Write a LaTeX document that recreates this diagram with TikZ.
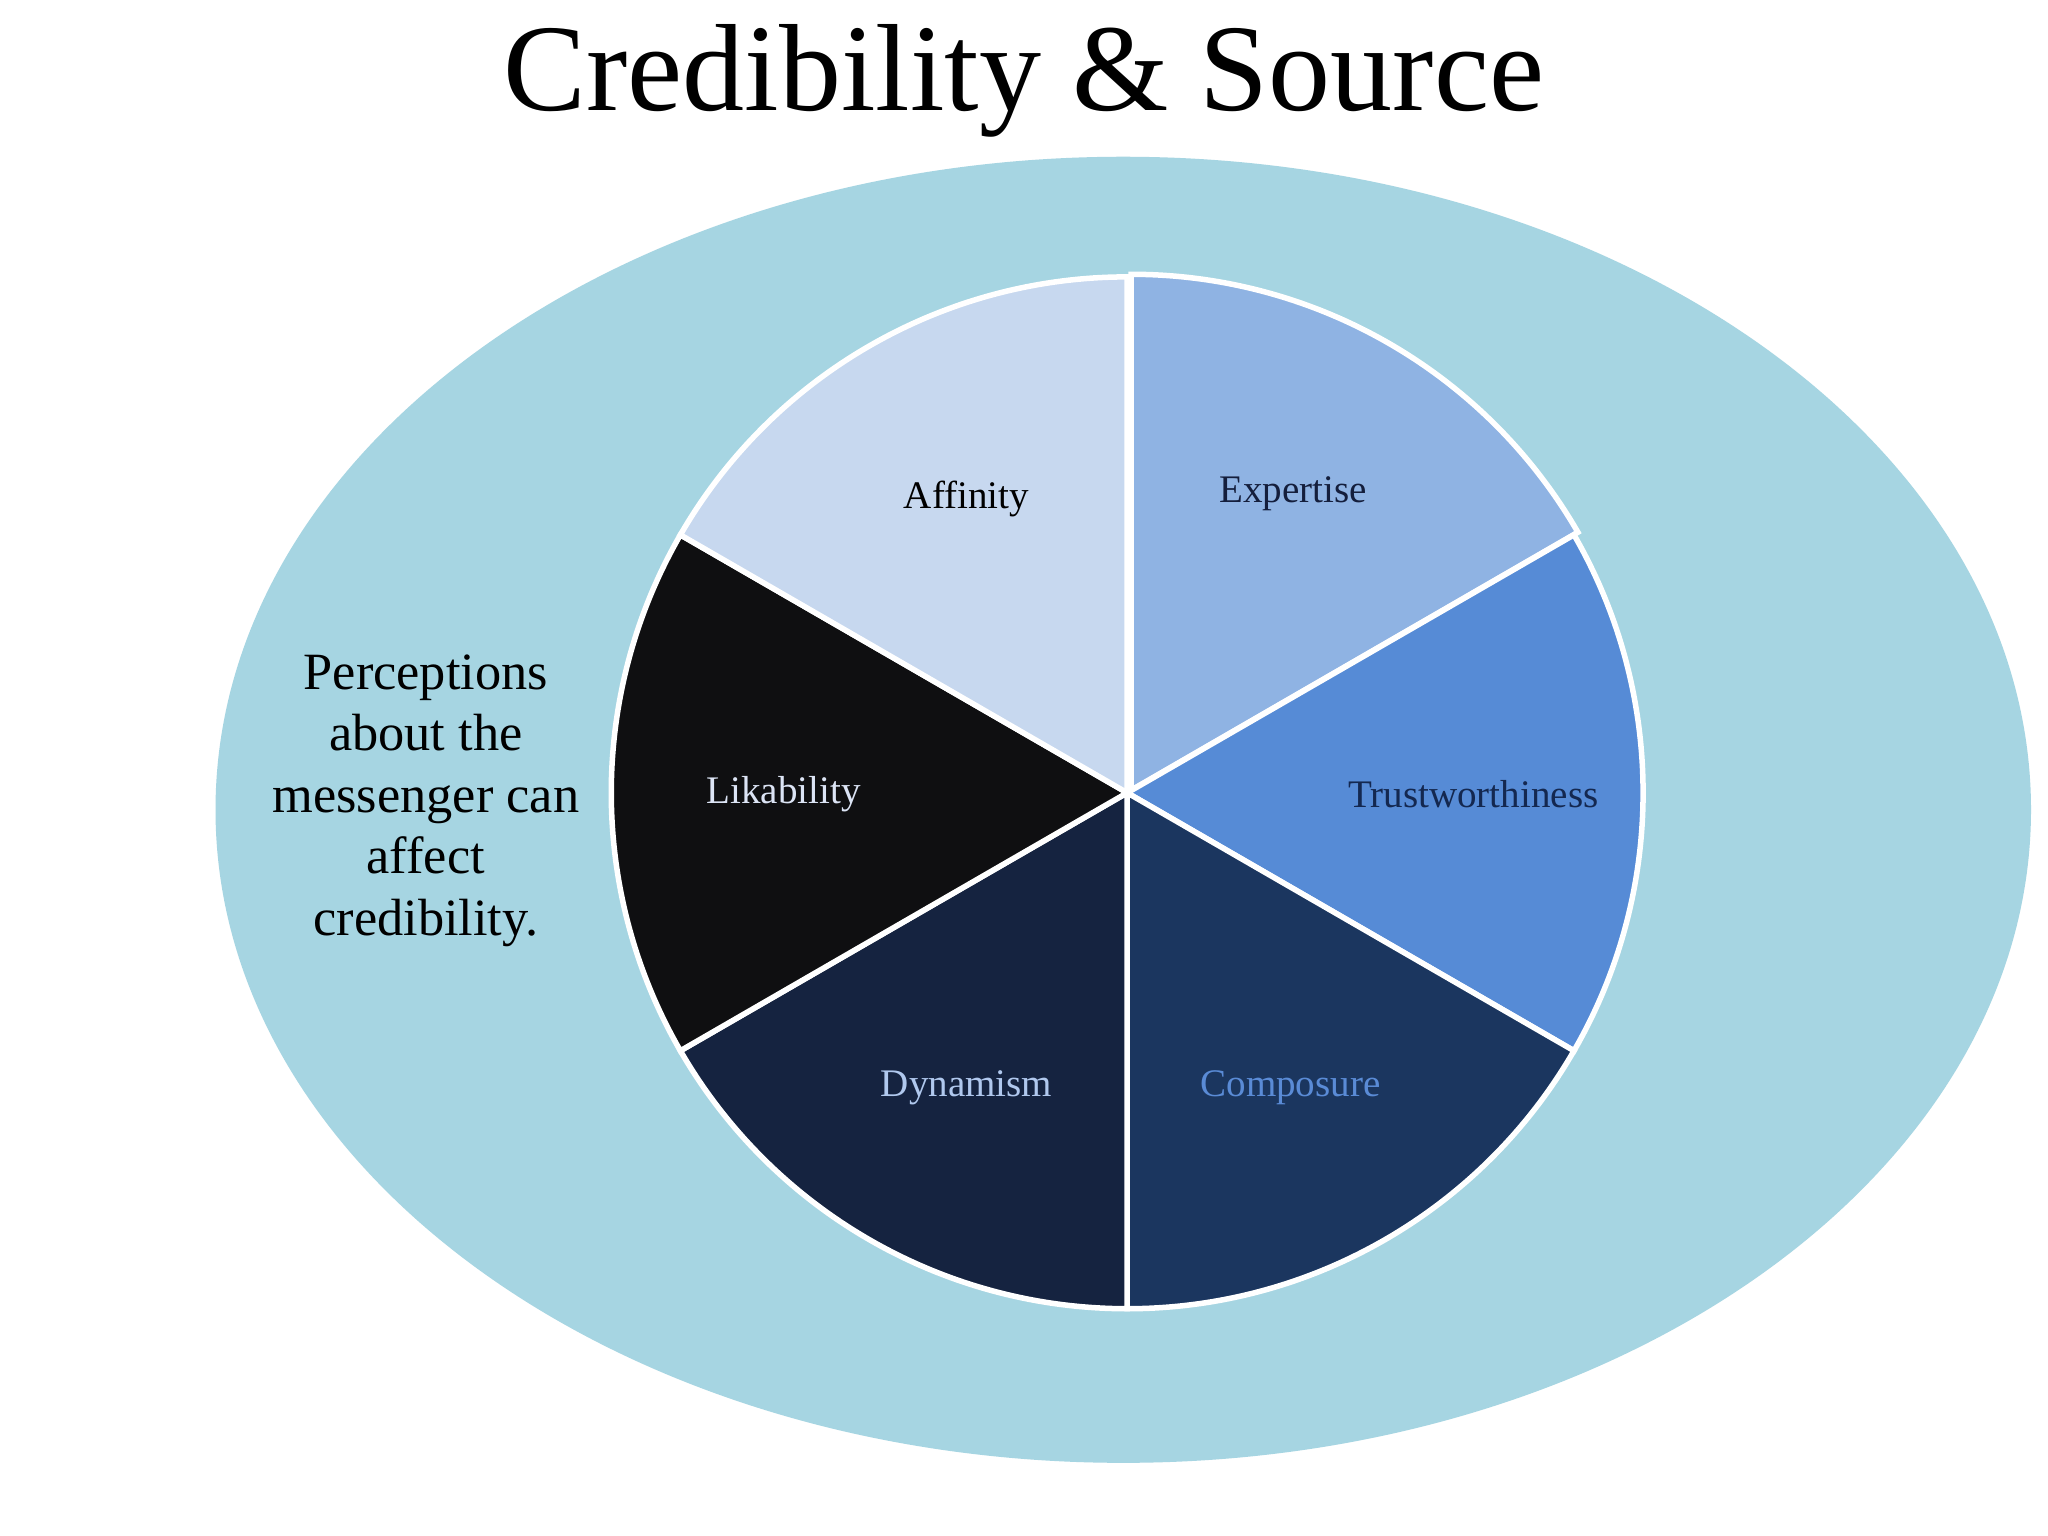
\documentclass[tikz,border=0pt]{standalone}
\usepackage{fontspec}
\setmainfont{Liberation Serif}
\usetikzlibrary{calc}
\begin{document}
\begin{tikzpicture}[x=0.01cm,y=-0.01cm,
  slice/.style={draw=white,line width=1.2pt},
  lab/.style={font=\fontsize{8.5}{10}\selectfont}]
\useasboundingbox (0,0) rectangle (1568,1176);
\fill[white] (0,0) rectangle (1568,1176);
\definecolor{ell}{HTML}{A6D5E2}
\fill[ell] (860,620) ellipse [x radius=695, y radius=500];
\coordinate (c) at (863,607);
\def\r{395}
\filldraw[slice,fill={rgb,255:red,143;green,179;blue,227}] ($(c)+(3,-2)$) -- ++(-90:\r) arc[start angle=-90,end angle=-30,radius=\r] -- cycle;
\filldraw[slice,fill={rgb,255:red,86;green,139;blue,214}] (c) -- ++(-30:\r) arc[start angle=-30,end angle=30,radius=\r] -- cycle;
\filldraw[slice,fill={rgb,255:red,27;green,54;blue,95}] (c) -- ++(30:\r) arc[start angle=30,end angle=90,radius=\r] -- cycle;
\filldraw[slice,fill={rgb,255:red,21;green,35;blue,64}] (c) -- ++(90:\r) arc[start angle=90,end angle=150,radius=\r] -- cycle;
\filldraw[slice,fill={rgb,255:red,15;green,15;blue,17}] (c) -- ++(150:\r) arc[start angle=150,end angle=210,radius=\r] -- cycle;
\filldraw[slice,fill={rgb,255:red,199;green,216;blue,239}] (c) -- ++(210:\r) arc[start angle=210,end angle=270,radius=\r] -- cycle;
\node[lab,text={rgb,255:red,20;green,30;blue,60}] (e) at (990,378) {Expertise};
\node[lab,text={rgb,255:red,20;green,40;blue,80}] (t) at (1128,608) {Trustworthiness};
\node[lab,text={rgb,255:red,90;green,139;blue,214}] (co) at (988,833) {Composure};
\node[lab,text={rgb,255:red,176;green,200;blue,238}] (d) at (740,833) {Dynamism};
\node[lab,text={rgb,255:red,220;green,228;blue,245}] (l) at (600,608) {Likability};
\node[lab,text=black] (a) at (740,382) {Affinity};
\node[font=\fontsize{27}{30}\selectfont] (title) at (784,62) {Credibility \& Source};
\node[align=center,font=\fontsize{11.4}{13.4}\selectfont] (p) at (326,613) {Perceptions\\about the\\messenger can\\affect\\credibility.};
\end{tikzpicture}
\end{document}
